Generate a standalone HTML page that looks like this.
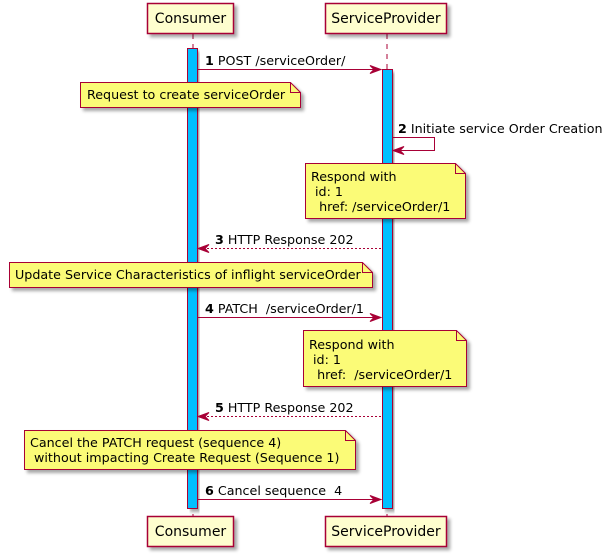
<!DOCTYPE html>
<html><head><meta charset="utf-8"><style>
html,body{margin:0;padding:0;background:#fff;}
svg{display:block;font-family:"DejaVu Sans","Liberation Sans",sans-serif;}
</style></head><body>
<svg width="613" height="556" viewBox="0 0 613 556" xmlns="http://www.w3.org/2000/svg">
<defs>
<filter id="sh" x="-10%" y="-10%" width="130%" height="140%"><feGaussianBlur in="SourceAlpha" stdDeviation="1.5"/><feOffset dx="3" dy="3"/><feComponentTransfer><feFuncA type="linear" slope="0.35"/></feComponentTransfer><feMerge><feMergeNode/><feMergeNode in="SourceGraphic"/></feMerge></filter>
</defs>
<line x1="193" y1="34" x2="193" y2="516" stroke="#A80036" stroke-dasharray="5,5"/>
<line x1="387" y1="34" x2="387" y2="516" stroke="#A80036" stroke-dasharray="5,5"/>
<rect x="187.5" y="48.5" width="10" height="460" fill="#00BFFF" stroke="#A80036" filter="url(#sh)"/>
<rect x="382.5" y="69.5" width="10" height="439" fill="#00BFFF" stroke="#A80036" filter="url(#sh)"/>
<g font-size="14" fill="#000">
<rect x="147.5" y="3.5" width="86" height="30" fill="#FEFECE" stroke="#A80036" stroke-width="1.5" filter="url(#sh)"/>
<text x="190.5" y="23" text-anchor="middle">Consumer</text>
<rect x="325.5" y="3.5" width="121" height="30" fill="#FEFECE" stroke="#A80036" stroke-width="1.5" filter="url(#sh)"/>
<text x="386" y="23" text-anchor="middle">ServiceProvider</text>
<rect x="147.5" y="516.5" width="86" height="30" fill="#FEFECE" stroke="#A80036" stroke-width="1.5" filter="url(#sh)"/>
<text x="190.5" y="536" text-anchor="middle">Consumer</text>
<rect x="325.5" y="516.5" width="121" height="30" fill="#FEFECE" stroke="#A80036" stroke-width="1.5" filter="url(#sh)"/>
<text x="386" y="536" text-anchor="middle">ServiceProvider</text>
</g>
<g font-size="12.7" fill="#000">
<line x1="198" y1="69.5" x2="380" y2="69.5" stroke="#A80036"/>
<polygon points="370,65.5 381,69.5 370,73.5 374,69.5" fill="#A80036" stroke="#A80036"/>
<text x="205" y="65"><tspan font-weight="bold">1</tspan> POST /serviceOrder/</text>
<path d="M80.5,82.5 H290.5 L300.5,92.5 V107.5 H80.5 Z" fill="#FBFB77" stroke="#A80036" filter="url(#sh)"/>
<path d="M290.5,82.5 V92.5 H300.5" fill="none" stroke="#A80036"/>
<text x="87" y="99">Request to create serviceOrder</text>
<polyline points="393,137.5 434.5,137.5 434.5,150.5 394,150.5" fill="none" stroke="#A80036"/>
<polygon points="404,146.5 393,150.5 404,154.5 400,150.5" fill="#A80036" stroke="#A80036"/>
<text x="398" y="133"><tspan font-weight="bold">2</tspan> Initiate service Order Creation</text>
<path d="M305.5,163.5 H455.5 L465.5,173.5 V218.5 H305.5 Z" fill="#FBFB77" stroke="#A80036" filter="url(#sh)"/>
<path d="M455.5,163.5 V173.5 H465.5" fill="none" stroke="#A80036"/>
<text x="311" y="181">Respond with</text>
<text x="311" y="196" xml:space="preserve"> id: 1</text>
<text x="311" y="211" xml:space="preserve">  href: /serviceOrder/1</text>
<line x1="199" y1="248.5" x2="381" y2="248.5" stroke="#A80036" stroke-dasharray="2,2"/>
<polygon points="209,244.5 198,248.5 209,252.5 205,248.5" fill="#A80036" stroke="#A80036"/>
<text x="215" y="244"><tspan font-weight="bold">3</tspan> HTTP Response 202</text>
<path d="M9.5,262.5 H362.5 L372.5,272.5 V287.5 H9.5 Z" fill="#FBFB77" stroke="#A80036" filter="url(#sh)"/>
<path d="M362.5,262.5 V272.5 H372.5" fill="none" stroke="#A80036"/>
<text x="15" y="279">Update Service Characteristics of inflight serviceOrder</text>
<line x1="198" y1="317.5" x2="380" y2="317.5" stroke="#A80036"/>
<polygon points="370,313.5 381,317.5 370,321.5 374,317.5" fill="#A80036" stroke="#A80036"/>
<text x="205" y="313" xml:space="preserve"><tspan font-weight="bold">4</tspan> PATCH  /serviceOrder/1</text>
<path d="M303.5,330.5 H456.5 L466.5,340.5 V386.5 H303.5 Z" fill="#FBFB77" stroke="#A80036" filter="url(#sh)"/>
<path d="M456.5,330.5 V340.5 H466.5" fill="none" stroke="#A80036"/>
<text x="309" y="349">Respond with</text>
<text x="309" y="364" xml:space="preserve"> id: 1</text>
<text x="309" y="379" xml:space="preserve">  href:  /serviceOrder/1</text>
<line x1="199" y1="416.5" x2="381" y2="416.5" stroke="#A80036" stroke-dasharray="2,2"/>
<polygon points="209,412.5 198,416.5 209,420.5 205,416.5" fill="#A80036" stroke="#A80036"/>
<text x="215" y="412"><tspan font-weight="bold">5</tspan> HTTP Response 202</text>
<path d="M24.5,430.5 H345.5 L355.5,440.5 V469.5 H24.5 Z" fill="#FBFB77" stroke="#A80036" filter="url(#sh)"/>
<path d="M345.5,430.5 V440.5 H355.5" fill="none" stroke="#A80036"/>
<text x="30" y="447">Cancel the PATCH request (sequence 4)</text>
<text x="30" y="462" xml:space="preserve"> without impacting Create Request (Sequence 1)</text>
<line x1="198" y1="499.5" x2="380" y2="499.5" stroke="#A80036"/>
<polygon points="370,495.5 381,499.5 370,503.5 374,499.5" fill="#A80036" stroke="#A80036"/>
<text x="205" y="495" xml:space="preserve"><tspan font-weight="bold">6</tspan> Cancel sequence  4</text>
</g>
</svg>
</body></html>
